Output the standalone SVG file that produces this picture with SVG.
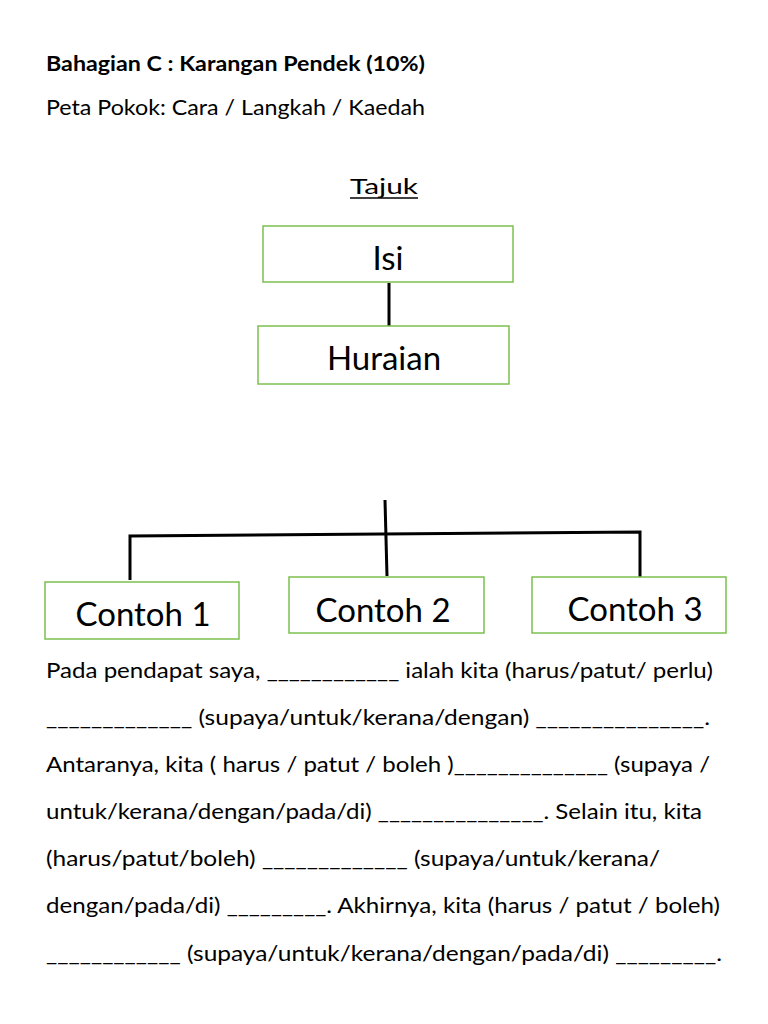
<svg xmlns="http://www.w3.org/2000/svg" width="768" height="1024" viewBox="0 0 768 1024">
<style>
.t{font-family:Lato,"Open Sans",sans-serif;font-size:21px;fill:#000}
.b{fill:#fff;stroke:#7cc04f;stroke-width:1.5}
.n{font-family:Lato,"Open Sans",sans-serif;font-size:33px;fill:#000;text-anchor:middle}
.c{stroke:#000;stroke-width:3;fill:none}
</style>
<rect width="768" height="1024" fill="#fff"/>
<text class="t" x="46" y="71" font-weight="bold" textLength="379" lengthAdjust="spacingAndGlyphs">Bahagian C : Karangan Pendek (10%)</text>
<text class="t" x="46" y="115" textLength="379" lengthAdjust="spacingAndGlyphs">Peta Pokok:  Cara / Langkah / Kaedah</text>
<text class="t" x="350" y="194" font-size="26" textLength="68" lengthAdjust="spacingAndGlyphs">Tajuk</text>
<line x1="350" y1="198" x2="418" y2="198" stroke="#000" stroke-width="1.5"/>
<g id="connectors">
<line class="c" x1="389" y1="283" x2="389" y2="326"/>
<line class="c" x1="385" y1="500" x2="387" y2="576"/>
<polyline class="c" points="130,580 130,536 640,532 640,577"/>
</g>
<g id="isi"><rect class="b" x="263" y="226" width="250" height="56"/><text class="n" x="388" y="270">Isi</text></g>
<g id="huraian"><rect class="b" x="258" y="326" width="251" height="58"/><text class="n" x="384" y="370">Huraian</text></g>
<g id="contoh1"><rect class="b" x="45" y="582" width="194" height="57"/><text class="n" x="143" y="626">Contoh 1</text></g>
<g id="contoh2"><rect class="b" x="289" y="577" width="195" height="56"/><text class="n" x="383" y="622">Contoh 2</text></g>
<g id="contoh3"><rect class="b" x="532" y="577" width="194" height="56"/><text class="n" x="635" y="621">Contoh 3</text></g>
<g>
<text class="t" x="46" y="678" textLength="667" lengthAdjust="spacingAndGlyphs">Pada pendapat saya, ____________  ialah kita (harus/patut/ perlu)</text>
<text class="t" x="46" y="725" textLength="664" lengthAdjust="spacingAndGlyphs">_____________ (supaya/untuk/kerana/dengan) _______________.</text>
<text class="t" x="46" y="772" textLength="664" lengthAdjust="spacingAndGlyphs">Antaranya, kita ( harus / patut / boleh )______________ (supaya /</text>
<text class="t" x="46" y="819" textLength="656" lengthAdjust="spacingAndGlyphs">untuk/kerana/dengan/pada/di) _______________. Selain itu, kita</text>
<text class="t" x="46" y="866" textLength="614" lengthAdjust="spacingAndGlyphs">(harus/patut/boleh) _____________ (supaya/untuk/kerana/</text>
<text class="t" x="46" y="913" textLength="674" lengthAdjust="spacingAndGlyphs">dengan/pada/di) _________. Akhirnya, kita (harus / patut / boleh)</text>
<text class="t" x="46" y="961" textLength="676" lengthAdjust="spacingAndGlyphs">____________ (supaya/untuk/kerana/dengan/pada/di) _________.</text>
</g>
</svg>
